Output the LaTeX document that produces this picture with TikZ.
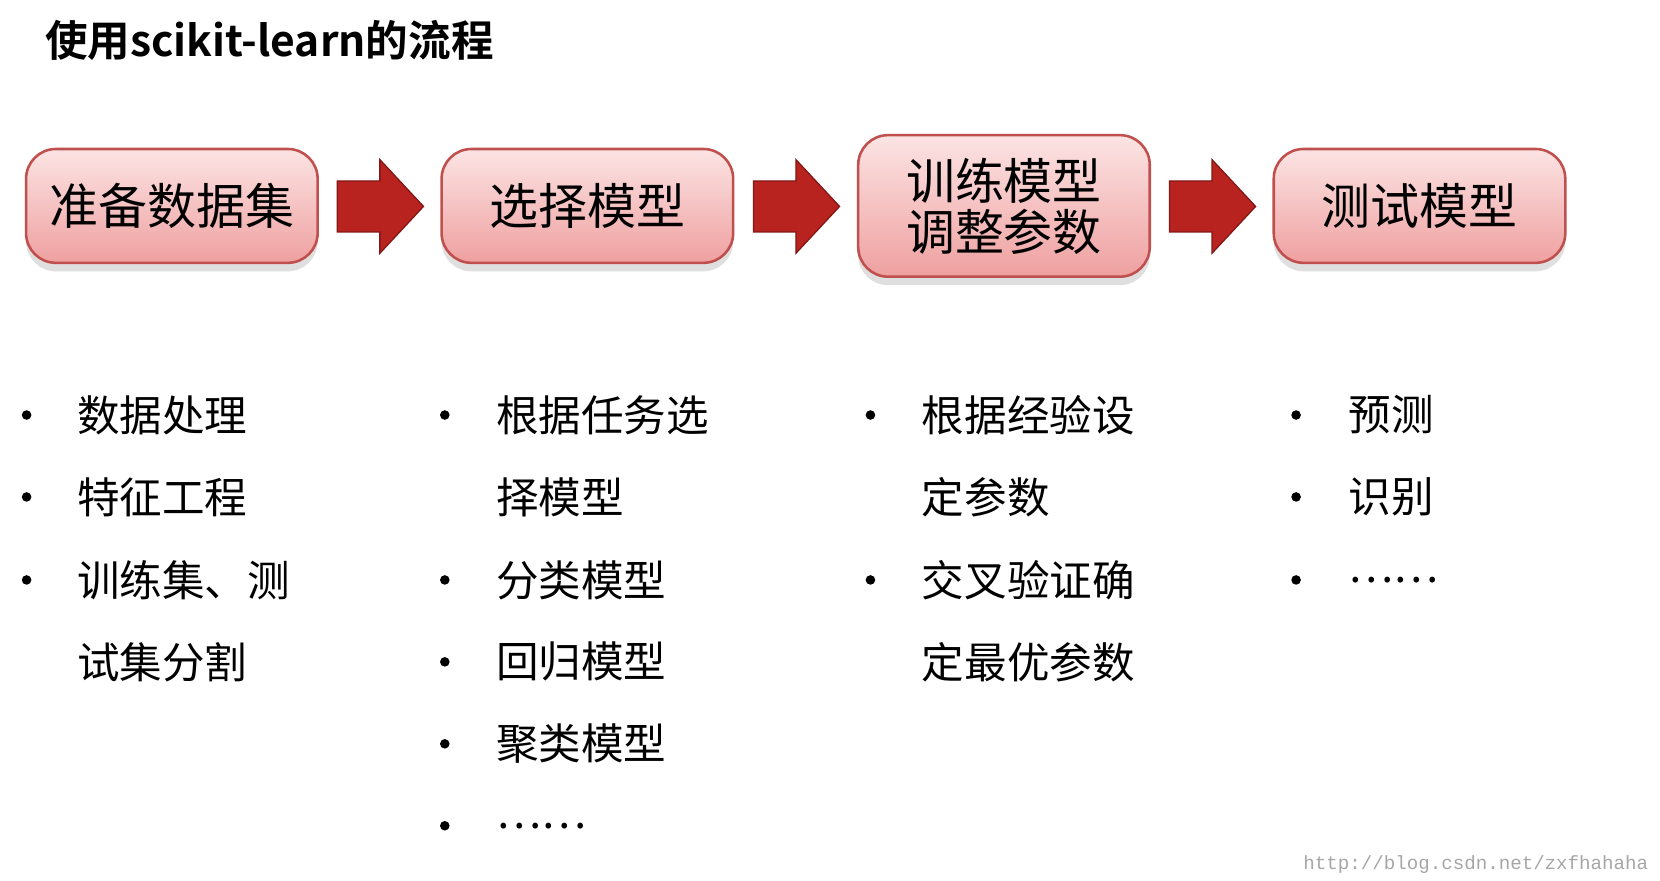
\documentclass[tikz,border=0pt]{standalone}
\usepackage{fontspec}
\setmainfont{Noto Sans CJK SC}
\newfontfamily\cjkb{Noto Sans CJK SC Bold}
\newfontfamily\wmfont{Liberation Mono}
\usetikzlibrary{shadows}
\definecolor{boxtop}{HTML}{FCE4E4}
\definecolor{boxbot}{HTML}{EFA0A0}
\definecolor{boxline}{HTML}{C0504D}
\definecolor{arrred}{HTML}{B8231F}
\tikzset{
  stepbox/.style={draw=boxline,line width=1.2pt,rounded corners=14pt,top color=boxtop,bottom color=boxbot,
    drop shadow={shadow xshift=0pt,shadow yshift=-4pt,opacity=0.25},font=\fontsize{23}{28}\selectfont,align=center},
  bigarrow/.style={fill=arrred,draw=arrred!70!black,line width=0.6pt},
  item/.style={anchor=west,font=\fontsize{20}{24}\selectfont,inner sep=0pt},
  dot/.style={circle,fill=black,inner sep=0pt,minimum size=4.5pt}
}
\begin{document}
\begin{tikzpicture}[x=0.5pt,y=-0.5pt]
\useasboundingbox (0,0) rectangle (1560,827);
\node[anchor=west,font=\cjkb\fontsize{20}{24}\selectfont,inner sep=0pt] (title) at (42,38) {使用scikit-learn的流程};
\node[stepbox,minimum width=137pt,minimum height=53.5pt] (b1) at (161.5,193.5) {准备数据集};
\node[stepbox,minimum width=137pt,minimum height=53.5pt] (b2) at (552,193.5) {选择模型};
\node[stepbox,minimum width=137pt,minimum height=66.5pt] (b3) at (943.5,193.5) {训练模型\\[-4pt]调整参数};
\node[stepbox,minimum width=137pt,minimum height=53.5pt] (b4) at (1334,193.5) {测试模型};
\foreach \a in {317,708,1099}{
  \draw[bigarrow] (\a,170) -- (\a+40,170) -- (\a+40,150) -- (\a+81,194) -- (\a+40,238) -- (\a+40,218) -- (\a,218) -- cycle;
}
% column 1
\foreach \y/\t in {390/数据处理,467/特征工程,545/{训练集、测}}{\node[dot] at (25,\y) {}; \node[item] at (72,\y) {\t};}
\node[item] (c1e) at (72,622) {试集分割};
% column 2
\node[dot] at (418,390) {}; \node[item] at (466,390) {根据任务选};
\node[item] at (466,467) {择模型};
\foreach \y/\t in {545/分类模型,622/回归模型,699/聚类模型,776/{……}}{\node[dot] at (418,\y) {}; \node[item] at (466,\y) {\t};}
% column 3
\node[dot] at (818,390) {}; \node[item] at (866,390) {根据经验设};
\node[item] at (866,467) {定参数};
\node[dot] at (818,545) {}; \node[item] at (866,545) {交叉验证确};
\node[item] at (866,622) {定最优参数};
% column 4
\foreach \y/\t in {390/预测,467/识别,545/{……}}{\node[dot] at (1218,\y) {}; \node[item] at (1267,\y) {\t};}
\node[anchor=east,font=\wmfont\fontsize{9}{10}\selectfont,text=black!35] (wm) at (1556,812) {http://blog.csdn.net/zxfhahaha};
\end{tikzpicture}
\end{document}
